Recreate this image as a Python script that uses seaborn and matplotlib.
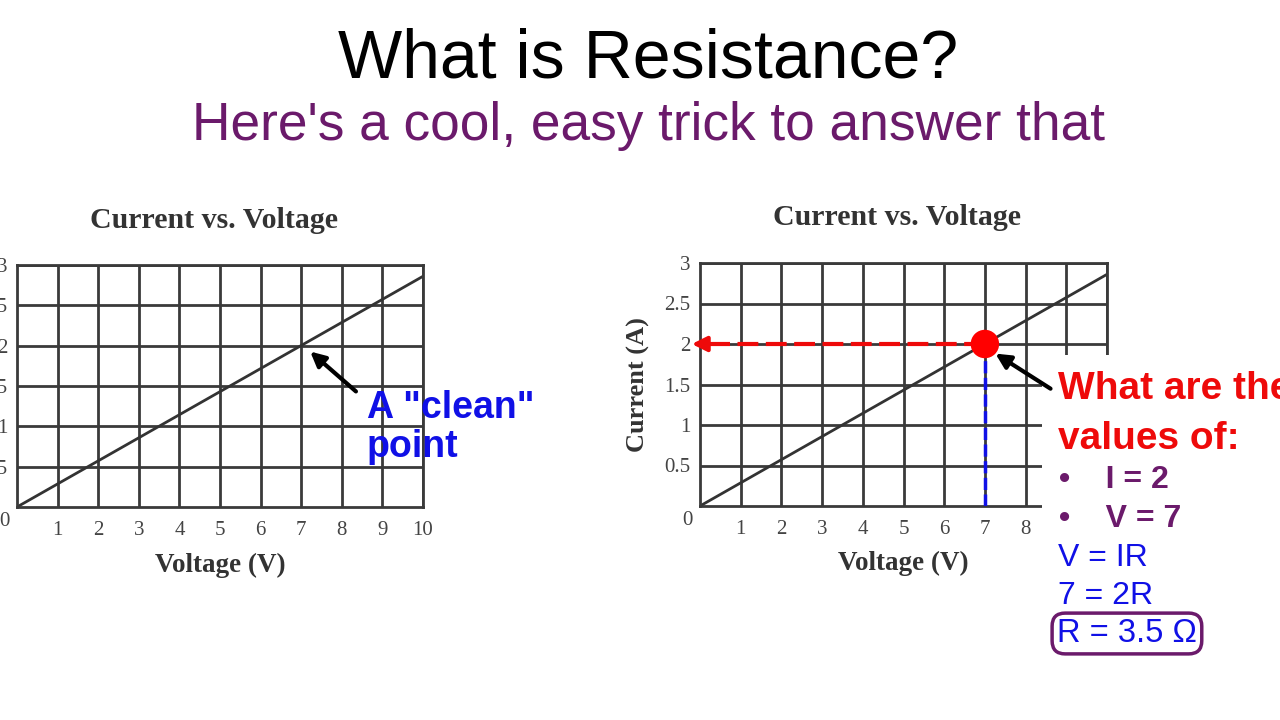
import matplotlib.pyplot as plt
from matplotlib.patches import Rectangle
import seaborn as sns

# graph data (same I-V line on both panels)
voltage = [0, 10]
current = [0, 2.86]
x_ticks = [1, 2, 3, 4, 5, 6, 7, 8, 9, 10]
y_ticks = [0.5, 1, 1.5, 2, 2.5, 3]
y_tick_labels = ["0.5", "1", "1.5", "2", "2.5", "3"]
# on the right slide the 9 and 10 labels sit under the text area
right_x_labels = ["1", "2", "3", "4", "5", "6", "7", "8", "", ""]

# the "clean" point
point_v = 7
point_i = 2

clean_lines = ['A "clean"', "point"]
question_lines = ["What are the", "values of:"]
bullets = ["I = 2", "V = 7"]
steps = ["V = IR", "7 = 2R"]
answer = "R = 3.5 Ω"

PURPLE = "#6b1a6b"
BLUE = "#1010e6"
RED = "#ee0a0a"
GRID = "#3a3a3a"

sns.set_style("white")
plt.rcParams["font.family"] = ["Liberation Sans", "DejaVu Sans"]

fig = plt.figure(figsize=(12.8, 7.2), dpi=100)
W, H = 1280, 720


def axes_box(x0, x1, ytop, ybot):
    return [x0 / W, 1 - ybot / H, (x1 - x0) / W, (ybot - ytop) / H]


def ftext(px, py, s, **kw):
    # text placed by pixel position of its baseline
    kw.setdefault("va", "baseline")
    kw.setdefault("ha", "left")
    return fig.text(px / W, 1 - py / H, s, **kw)


def draw_graph(ax, title_y, xlabel_y, with_ylabel, xlabels=None):
    sns.lineplot(x=voltage, y=current, ax=ax, color="#333333", lw=2)
    ax.set_xlim(0, 10)
    ax.set_ylim(0, 3)
    ax.set_xticks(x_ticks)
    if xlabels is not None:
        ax.set_xticklabels(xlabels)
    ax.set_yticks(y_ticks)
    ax.set_yticklabels(y_tick_labels)
    ax.grid(True, color=GRID, lw=2)
    for s in ax.spines.values():
        s.set_visible(True)
        s.set_color(GRID)
        s.set_linewidth(2)
    ax.tick_params(length=0, labelsize=15, labelcolor="#444444")
    ax.tick_params(axis="x", pad=10)
    ax.tick_params(axis="y", pad=7)
    for lab in ax.get_xticklabels() + ax.get_yticklabels():
        lab.set_fontfamily("Liberation Serif")
    ax.text(-0.32, -0.18, "0", ha="center", va="center", fontsize=15,
            color="#444444", family="Liberation Serif")
    ax.text(0.485, title_y, "Current vs. Voltage", transform=ax.transAxes,
            ha="center", va="baseline", fontsize=21.5, fontweight="bold",
            color="#333333", family="Liberation Serif")
    ax.set_xlabel("Voltage (V)", fontsize=19.5, fontweight="bold",
                  color="#333333", family="Liberation Serif")
    ax.xaxis.set_label_coords(0.5, xlabel_y)
    ax.xaxis.label.set_va("baseline")
    if with_ylabel:
        ax.set_ylabel("Current (A)", fontsize=19, fontweight="bold",
                      color="#333333", family="Liberation Serif")
        ax.yaxis.set_label_coords(-0.15, 0.5)
        ax.yaxis.label.set_va("center")
    else:
        ax.set_ylabel("")


# slide titles
ftext(648, 78, "What is Resistance?", ha="center", fontsize=49,
      color="black")
ftext(648, 140, "Here's a cool, easy trick to answer that", ha="center",
      fontsize=38.3, color=PURPLE)

# left graph
ax1 = fig.add_axes(axes_box(17, 423, 265, 507))
draw_graph(ax1, 1.153, -0.269, with_ylabel=False)
ax1.annotate("", xy=(7.17, 1.95), xytext=(8.4, 1.41),
             arrowprops=dict(arrowstyle="-|>", color="black", lw=3,
                             mutation_scale=22), annotation_clip=False)
for k, line in enumerate(clean_lines):
    ftext(367, 418 + 39 * k, line, fontsize=27, fontweight="bold",
          color=BLUE)

# right graph
ax2 = fig.add_axes(axes_box(700, 1107, 263, 506))
draw_graph(ax2, 1.156, -0.263, with_ylabel=True, xlabels=right_x_labels)

# dashed guides from the point to the axes
ax2.plot([point_v, 0.15], [point_i, point_i], color=RED, lw=3,
         linestyle=(0, (5, 1.8)), zorder=4)
ax2.annotate("", xy=(-0.27, point_i), xytext=(0.25, point_i),
             arrowprops=dict(arrowstyle="-|>", color=RED, lw=3,
                             mutation_scale=22), annotation_clip=False,
             zorder=4)
ax2.plot([point_v, point_v], [point_i, 0], color=BLUE, lw=2.5,
         linestyle=(0, (3.5, 1.3)), zorder=4)
sns.scatterplot(x=[point_v], y=[point_i], ax=ax2, color="#ff0000", s=420,
                edgecolor="none", zorder=5, clip_on=False)

# white text area covering the lower right of the graph
ax2.add_patch(Rectangle((8.4, -1.5), 6, 1.5 + 1.86, facecolor="white",
                        edgecolor="none", zorder=6, clip_on=False))
ax2.annotate("", xy=(7.2, 1.9), xytext=(8.67, 1.43),
             arrowprops=dict(arrowstyle="-|>", color="black", lw=3,
                             mutation_scale=22), annotation_clip=False,
             zorder=7)

# worked answer
for k, line in enumerate(question_lines):
    ftext(1058, 399 + 50 * k, line, fontsize=28, fontweight="bold",
          color=RED, zorder=8)
for k, b in enumerate(bullets):
    ftext(1059, 488 + 39 * k, "•    " + b, fontsize=23, fontweight="bold",
          color=PURPLE, zorder=8)
for k, s in enumerate(steps):
    ftext(1058, 566 + 38 * k, s, fontsize=23, color=BLUE, zorder=8)
ftext(1057, 642, answer, fontsize=23.5, color=BLUE, zorder=8,
      bbox=dict(boxstyle="round,pad=0.15,rounding_size=0.4",
                facecolor="none", edgecolor=PURPLE, lw=2.5))

fig.savefig("out.png", dpi=100, facecolor="white")
